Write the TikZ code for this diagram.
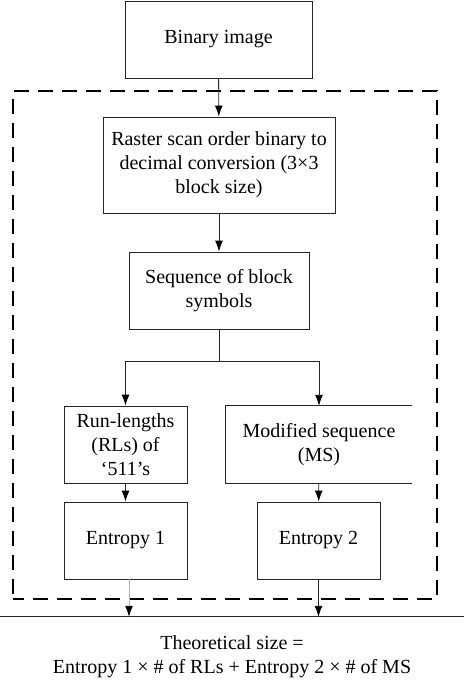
\documentclass[tikz,border=0pt]{standalone}
\usepackage{fontspec}
\setmainfont{Liberation Serif}
\usetikzlibrary{arrows.meta}
\begin{document}
\begin{tikzpicture}[x=1pt,y=-1pt,
  font=\fontsize{20}{24}\selectfont,
  box/.style={draw=black!85, line width=0.9pt, minimum width=#1, inner sep=0pt, align=center},
  plain/.style={minimum width=#1, inner sep=0pt, align=center},
  arr/.style={draw=black!85, line width=0.9pt, -{Latex[length=11pt,width=8pt,color=black]}},
  lin/.style={draw=black!85, line width=0.9pt}]
\useasboundingbox (0,0) rectangle (464,696);
\node[draw=black, line width=1.3pt, dash pattern=on 15pt off 9pt, dash phase=4pt, minimum width=424pt, minimum height=508pt, inner sep=0pt] (grp) at (225,345) {};
\node[box=187pt, minimum height=77pt] (bin) at (218.5,39.5) {Binary image};
\node[box=232pt, minimum height=96pt] (ras) at (219,165) {Raster scan order binary to\\decimal conversion (3×3\\block size)};
\node[box=180pt, minimum height=77pt] (seq) at (219,290.5) {Sequence of block\\symbols};
\node[box=123pt, minimum height=77pt] (rl) at (125.5,444.5) {Run-lengths\\(RLs) of\\‘511’s};
\node[plain=186pt, minimum height=77pt] (ms) at (319,444.5) {Modified sequence\\(MS)};
\draw[lin] (ms.north east) -- (ms.north west) -- (ms.south west) -- (ms.south east);
\node[box=123pt, minimum height=77pt] (e1) at (125.5,540.5) {Entropy 1};
\node[box=123pt, minimum height=77pt] (e2) at (318.5,540.5) {Entropy 2};
\node[plain=464pt, minimum height=79pt] (res) at (232,656.5) {Theoretical size =\\Entropy 1 × \# of RLs + Entropy 2 × \# of MS};
\draw[lin] (res.north west) -- (res.north east);
\coordinate (split) at (219,361);
\coordinate (e1out) at (129,579);
\draw[arr] (bin) -- (ras);
\draw[arr] (ras) -- (seq);
\draw[lin] (seq) -- (split);
\draw[arr] (split) -| (rl);
\draw[arr] (split) -| (ms);
\draw[arr] (rl) -- (e1);
\draw[arr] (ms) -- (e2);
\draw[arr, draw=black!30] (e1out) -- (e1out |- res.north);
\draw[arr] (e2) -- (e2 |- res.north);
\end{tikzpicture}
\end{document}
